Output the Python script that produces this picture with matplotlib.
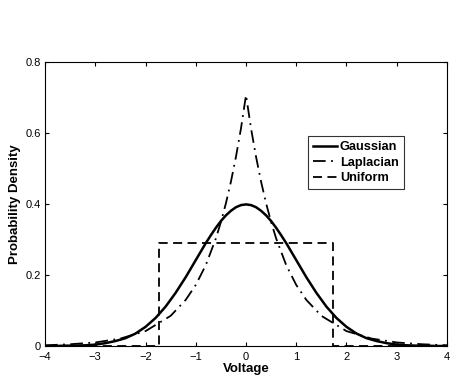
import numpy as np
import matplotlib.pyplot as plt

plt.rcParams['font.family'] = ['Liberation Sans', 'DejaVu Sans']

# values
gauss_x = [-4.0, -3.8, -3.6, -3.4, -3.2, -3.0, -2.8, -2.6, -2.4, -2.2, -2.0,
           -1.8, -1.6, -1.4, -1.2, -1.0, -0.8, -0.7, -0.6, -0.5, -0.4, -0.3, -0.2, -0.1, 0.0,
           0.1, 0.2, 0.3, 0.4, 0.5, 0.6, 0.7, 0.8, 1.0, 1.2, 1.4, 1.6, 1.8, 2.0,
           2.2, 2.4, 2.6, 2.8, 3.0, 3.2, 3.4, 3.6, 3.8, 4.0]
gauss_y = [0.000, 0.000, 0.001, 0.001, 0.002, 0.004, 0.008, 0.014, 0.022, 0.035, 0.054,
           0.079, 0.111, 0.150, 0.194, 0.242, 0.290, 0.312, 0.333, 0.352, 0.368, 0.381, 0.391, 0.397, 0.399,
           0.397, 0.391, 0.381, 0.368, 0.352, 0.333, 0.312, 0.290, 0.242, 0.194, 0.150, 0.111, 0.079, 0.054,
           0.035, 0.022, 0.014, 0.008, 0.004, 0.002, 0.001, 0.001, 0.000, 0.000]

lap_x = [-4.0, -3.5, -3.0, -2.5, -2.0, -1.5, -1.2, -1.0, -0.8, -0.6, -0.5, -0.4, -0.3, -0.2, -0.1, 0.0,
         0.1, 0.2, 0.3, 0.4, 0.5, 0.6, 0.8, 1.0, 1.2, 1.5, 2.0, 2.5, 3.0, 3.5, 4.0]
lap_y = [0.002, 0.005, 0.010, 0.021, 0.042, 0.085, 0.130, 0.172, 0.228, 0.303, 0.349, 0.402, 0.463, 0.533, 0.613, 0.707,
         0.613, 0.533, 0.463, 0.402, 0.349, 0.303, 0.228, 0.172, 0.130, 0.085, 0.042, 0.021, 0.010, 0.005, 0.002]

unif_x = [-4.0, -1.73, -1.73, 1.73, 1.73, 4.0]
unif_y = [0.0, 0.0, 0.289, 0.289, 0.0, 0.0]

xticks = [-4, -3, -2, -1, 0, 1, 2, 3, 4]
yticks = [0, 0.2, 0.4, 0.6, 0.8]
ytick_labels = ['0', '0.2', '0.4', '0.6', '0.8']

fig = plt.figure(figsize=(4.74, 3.89), dpi=100)
ax = fig.add_axes([0.095, 0.1105, 0.848, 0.730])

ax.plot(gauss_x, gauss_y, color='black', lw=1.8, label='Gaussian')
ax.plot(lap_x, lap_y, color='black', lw=1.3, linestyle=(0, (7, 3, 1, 3)), label='Laplacian')
ax.plot(unif_x, unif_y, color='black', lw=1.3, linestyle=(0, (5, 3)), label='Uniform')

ax.set_xlim(-4, 4)
ax.set_ylim(0, 0.8)
ax.set_xticks(xticks)
ax.set_yticks(yticks)
ax.set_yticklabels(ytick_labels)
ax.tick_params(direction='in', top=True, right=True, length=3, labelsize=8)
ax.tick_params(axis='x', pad=4)
ax.tick_params(axis='y', pad=3)
for s in ax.spines.values():
    s.set_linewidth(0.8)

ax.set_xlabel('Voltage', fontsize=9.5, fontweight='bold', labelpad=1)
ax.set_ylabel('Probability Density', fontsize=9.5, fontweight='bold', labelpad=3)

leg = ax.legend(loc='upper left', bbox_to_anchor=(0.638, 0.762),
                frameon=True, fancybox=False, edgecolor='black', handlelength=1.9,
                handletextpad=0.2, borderpad=0.4, labelspacing=0.28,
                prop={'weight': 'bold', 'size': 9.2})
leg.get_frame().set_linewidth(0.8)

fig.savefig('out.png', dpi=100)
